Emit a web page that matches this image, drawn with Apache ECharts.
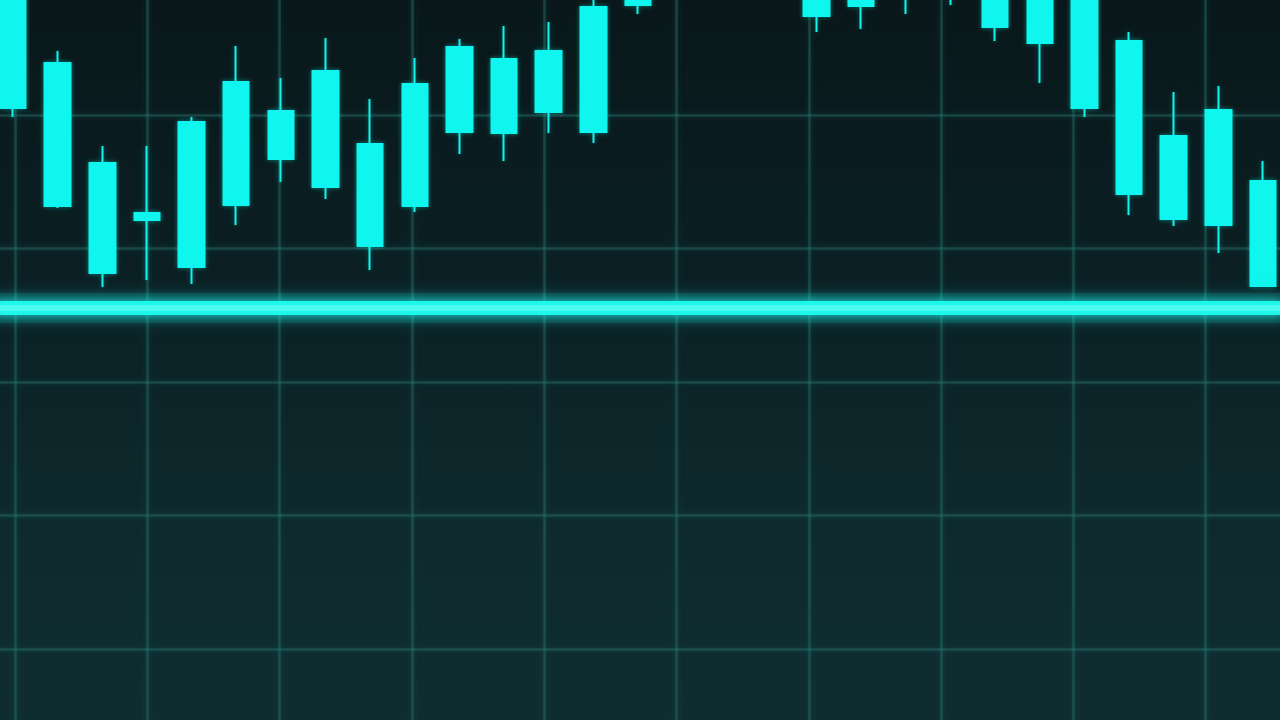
<!DOCTYPE html>
<html>
<head>
<meta charset="utf-8">
<script src="https://cdn.jsdelivr.net/npm/echarts@6/dist/echarts.min.js"></script>
<style>
  html, body { margin: 0; padding: 0; width: 1280px; height: 720px; overflow: hidden; }
  #chart { width: 1280px; height: 720px;
    background: linear-gradient(to bottom, #09171a 0%, #0b2024 40%, #0e2a2e 75%, #0f2d31 100%); }
</style>
</head>
<body>
<div id="chart"></div>
<script>
// Session index for each candle
const categories = [];
for (let i = 1; i <= 29; i++) categories.push('D' + i);

// [open, close, low, high] (price units)
const openVals  = [760, 657, 557, 500, 453, 515, 609, 533, 576, 514, 588, 661, 608, 588, 715, 780, 850, 820, 760, 714, 740, 790, 750, 730, 750, 679, 584, 495, 539];
const closeVals = [612, 514, 447, 507, 598, 638, 561, 649, 474, 636, 673, 587, 669, 713, 780, 850, 820, 790, 704, 770, 800, 745, 693, 677, 612, 526, 501, 610, 434];
const lowVals   = [603, 512, 433, 440, 436, 495, 538, 521, 450, 508, 566, 559, 587, 577, 706, 745, 790, 735, 688, 691, 706, 715, 679, 637, 603, 505, 494, 467, 433];
const highVals  = [780, 669, 574, 574, 603, 674, 642, 682, 621, 662, 681, 694, 698, 725, 800, 870, 880, 840, 775, 790, 815, 805, 765, 745, 760, 688, 628, 634, 559];

// Glowing support level
const supportLevel = 412;

// Background grid cell indices (decorative grid)
const gridColsMax = 11;
const gridRowsMax = 7;

const candleData = categories.map((c, i) => [openVals[i], closeVals[i], lowVals[i], highVals[i]]);

const cyan = '#10f6ef';
const gridLine = {
  show: true,
  lineStyle: { color: 'rgba(42,112,108,0.45)', width: 2.5, shadowBlur: 6, shadowColor: 'rgba(40,160,150,0.5)' }
};

const chart = echarts.init(document.getElementById('chart'), null, { renderer: 'canvas' });
chart.setOption({
  backgroundColor: 'transparent',
  animation: false,
  grid: [
    { left: -117.3, top: -152, width: 132.3 * gridColsMax, height: 133.5 * gridRowsMax,
      containLabel: false, outerBoundsMode: 'none' },
    { left: -9.3, top: 0, width: 1294.6, height: 720,
      containLabel: false, outerBoundsMode: 'none' }
  ],
  xAxis: [
    { type: 'value', gridIndex: 0, min: 0, max: gridColsMax, interval: 1,
      axisLine: { show: false }, axisTick: { show: false }, axisLabel: { show: false }, splitLine: gridLine },
    { type: 'category', gridIndex: 1, data: categories, boundaryGap: true,
      axisLine: { show: false }, axisTick: { show: false }, axisLabel: { show: false }, splitLine: { show: false } }
  ],
  yAxis: [
    { type: 'value', gridIndex: 0, min: 0, max: gridRowsMax, interval: 1,
      axisLine: { show: false }, axisTick: { show: false }, axisLabel: { show: false }, splitLine: gridLine },
    { type: 'value', gridIndex: 1, min: 0, max: 720,
      axisLine: { show: false }, axisTick: { show: false }, axisLabel: { show: false }, splitLine: { show: false } }
  ],
  series: [
    {
      type: 'candlestick',
      xAxisIndex: 1, yAxisIndex: 1,
      data: candleData,
      barWidth: 26,
      clip: true,
      itemStyle: {
        color: cyan, color0: cyan, borderColor: cyan, borderColor0: cyan, borderWidth: 2,
        shadowBlur: 5, shadowColor: 'rgba(0,255,240,0.35)'
      },
      markLine: {
        silent: true,
        symbol: 'none',
        label: { show: false },
        data: [
          { yAxis: supportLevel, lineStyle: { color: 'rgba(20,200,190,0.12)', width: 30, type: 'solid', shadowBlur: 24, shadowColor: 'rgba(20,220,210,0.7)' } },
          { yAxis: supportLevel, lineStyle: { color: '#1ff6ea', width: 14, type: 'solid', shadowBlur: 14, shadowColor: '#20f0e8' } },
          { yAxis: supportLevel, lineStyle: { color: 'rgba(120,255,245,0.5)', width: 6, type: 'solid' } }
        ]
      }
    }
  ]
});
</script>
</body>
</html>
